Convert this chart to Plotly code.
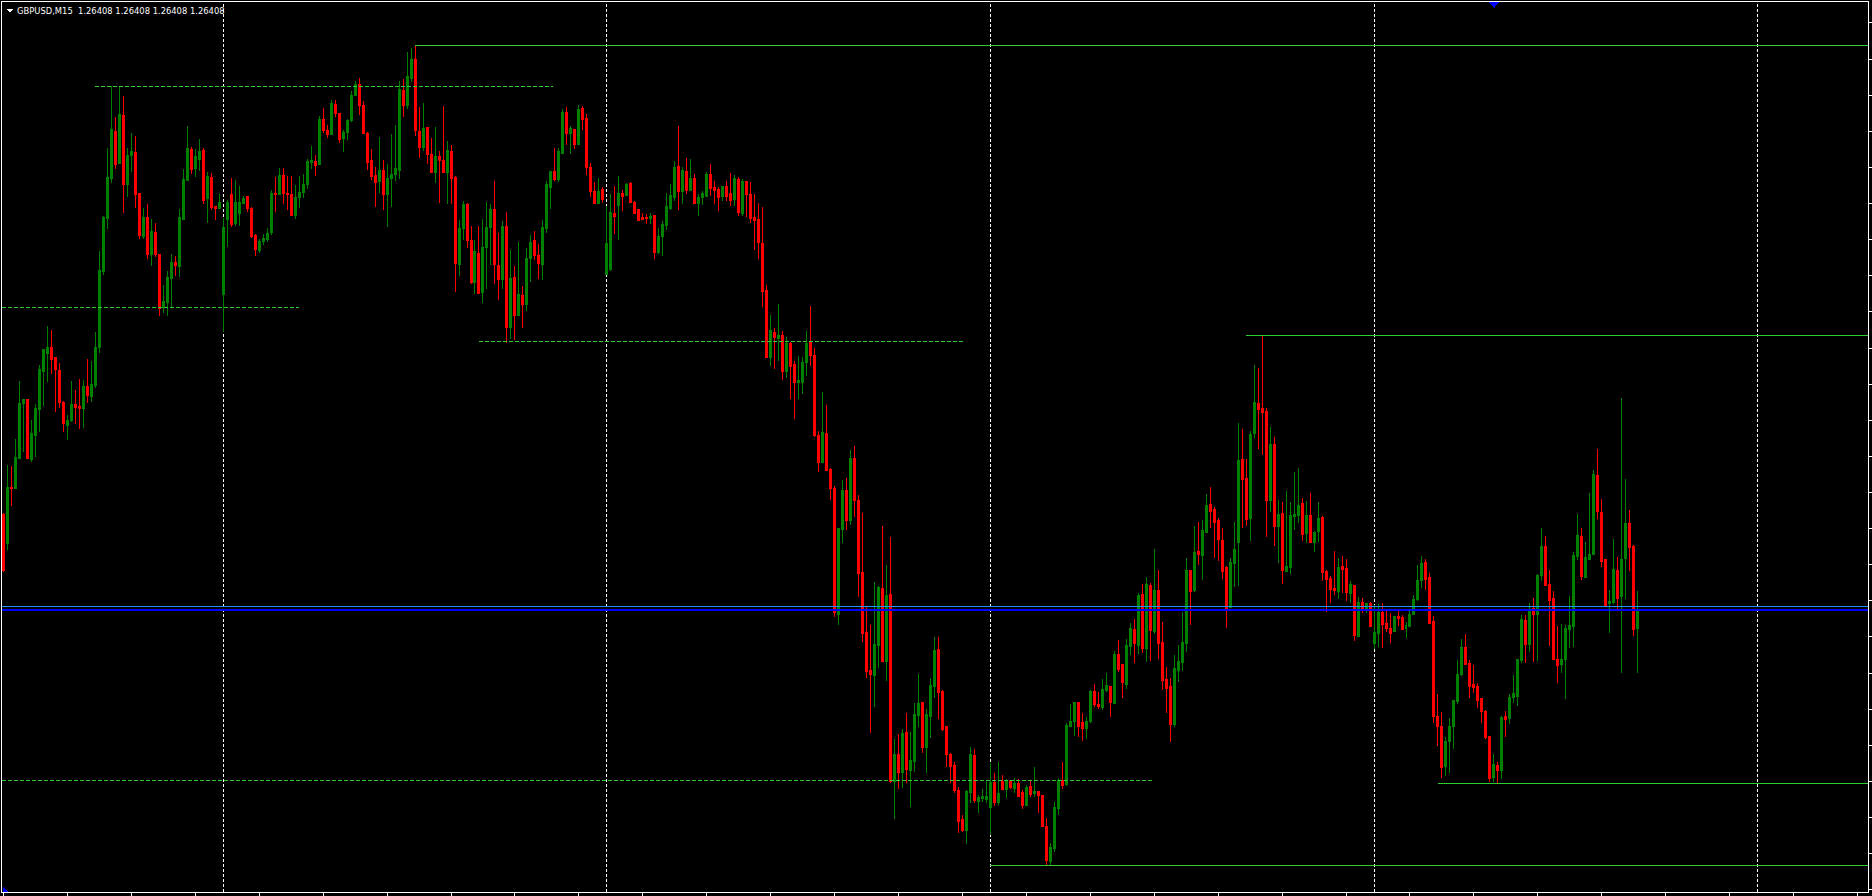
import plotly.graph_objects as go

symbol = "GBPUSD"
timeframe = "M15"

open_ = [
1.26504,1.26475,1.26531,1.26530,1.26560,1.26615,1.26619,1.26559,1.26583,1.26609,
1.26647,1.26665,1.26671,1.26661,1.26648,1.26616,1.26593,1.26598,1.26614,1.26612,
1.26610,1.26632,1.26622,1.26633,1.26671,1.26747,1.26801,1.26841,1.26888,1.26856,
1.26904,1.26835,1.26864,1.26867,1.26826,1.26782,1.26802,1.26764,1.26786,1.26764,
1.26711,1.26716,1.26740,1.26756,1.26752,1.26800,1.26839,1.26870,1.26851,1.26860,
1.26869,1.26821,1.26842,1.26813,1.26811,1.26724,1.26800,1.26825,1.26796,1.26806,
1.26816,1.26823,1.26811,1.26783,1.26768,1.26777,1.26779,1.26786,1.26826,1.26825,
1.26844,1.26826,1.26825,1.26804,1.26822,1.26827,1.26835,1.26857,1.26858,1.26855,
1.26900,1.26889,1.26885,1.26915,1.26906,1.26881,1.26887,1.26899,1.26924,1.26935,
1.26914,1.26886,1.26859,1.26844,1.26838,1.26849,1.26825,1.26841,1.26845,1.26849,
1.26929,1.26914,1.26941,1.26960,1.26888,1.26872,1.26892,1.26865,1.26847,1.26863,
1.26859,1.26847,1.26868,1.26842,1.26754,1.26790,1.26815,1.26778,1.26736,1.26765,
1.26726,1.26771,1.26791,1.26810,1.26753,1.26739,1.26793,1.26691,1.26741,1.26703,
1.26723,1.26714,1.26760,1.26778,1.26763,1.26754,1.26790,1.26832,1.26848,1.26840,
1.26866,1.26907,1.26886,1.26890,1.26875,1.26911,1.26901,1.26852,1.26828,1.26816,
1.26830,1.26744,1.26749,1.26806,1.26814,1.26826,1.26824,1.26836,1.26817,1.26810,
1.26802,1.26802,1.26801,1.26804,1.26766,1.26782,1.26794,1.26811,1.26822,1.26853,
1.26828,1.26848,1.26829,1.26841,1.26816,1.26822,1.26823,1.26845,1.26832,1.26830,
1.26823,1.26833,1.26826,1.26820,1.26840,1.26806,1.26838,1.26825,1.26802,1.26800,
1.26775,1.26728,1.26661,1.26686,1.26680,1.26683,1.26647,1.26675,1.26654,1.26636,
1.26636,1.26656,1.26676,1.26663,1.26583,1.26556,1.26585,1.26549,1.26530,1.26404,
1.26489,1.26528,1.26498,1.26560,1.26518,1.26446,1.26386,1.26348,1.26342,1.26373,
1.26430,1.26357,1.26424,1.26236,1.26263,1.26245,1.26285,1.26247,1.26256,1.26302,
1.26315,1.26270,1.26301,1.26331,1.26369,1.26326,1.26291,1.26263,1.26252,1.26227,
1.26198,1.26187,1.26225,1.26262,1.26216,1.26219,1.26218,1.26210,1.26235,1.26215,
1.26236,1.26228,1.26237,1.26229,1.26234,1.26225,1.26212,1.26231,1.26224,1.26226,
1.26222,1.26191,1.26156,1.26169,1.26209,1.26237,1.26233,1.26291,1.26296,1.26315,
1.26295,1.26289,1.26296,1.26326,1.26313,1.26310,1.26327,1.26331,1.26314,1.26364,
1.26354,1.26333,1.26372,1.26389,1.26373,1.26424,1.26370,1.26433,1.26387,1.26428,
1.26376,1.26338,1.26331,1.26293,1.26348,1.26356,1.26375,1.26448,1.26428,1.26467,
1.26463,1.26486,1.26514,1.26509,1.26498,1.26478,1.26451,1.26411,1.26455,1.26476,
1.26559,1.26540,1.26500,1.26585,1.26615,1.26610,1.26607,1.26518,1.26574,1.26492,
1.26505,1.26447,1.26451,1.26502,1.26503,1.26515,1.26485,1.26503,1.26476,1.26487,
1.26501,1.26447,1.26440,1.26430,1.26427,1.26452,1.26450,1.26425,1.26433,1.26382,
1.26416,1.26408,1.26415,1.26375,1.26385,1.26406,1.26395,1.26390,1.26387,1.26402,
1.26401,1.26390,1.26392,1.26404,1.26419,1.26438,1.26456,1.26441,1.26397,1.26301,
1.26291,1.26251,1.26276,1.26291,1.26316,1.26343,1.26371,1.26355,1.26333,1.26331,
1.26319,1.26306,1.26281,1.26240,1.26252,1.26247,1.26301,1.26299,1.26320,1.26321,
1.26358,1.26398,1.26374,1.26410,1.26404,1.26443,1.26472,1.26434,1.26420,1.26359,
1.26354,1.26359,1.26389,1.26392,1.26462,1.26482,1.26441,1.26459,1.26464,1.26543,
1.26506,1.26459,1.26415,1.26416,1.26448,1.26422,1.26460,1.26495,1.26472,1.26390,
1.26408]

high = [
1.26505,1.26553,1.26552,1.26580,1.26638,1.26620,1.26619,1.26599,1.26615,1.26654,
1.26670,1.26693,1.26689,1.26661,1.26656,1.26618,1.26604,1.26638,1.26629,1.26640,
1.26639,1.26660,1.26658,1.26687,1.26768,1.26803,1.26871,1.26933,1.26902,1.26933,
1.26923,1.26871,1.26886,1.26883,1.26826,1.26811,1.26815,1.26800,1.26796,1.26764,
1.26734,1.26748,1.26765,1.26763,1.26810,1.26850,1.26893,1.26872,1.26870,1.26880,
1.26871,1.26847,1.26846,1.26813,1.26825,1.26801,1.26819,1.26841,1.26839,1.26833,
1.26823,1.26823,1.26812,1.26785,1.26780,1.26785,1.26791,1.26829,1.26842,1.26851,
1.26851,1.26843,1.26843,1.26834,1.26843,1.26845,1.26860,1.26873,1.26864,1.26903,
1.26911,1.26894,1.26919,1.26919,1.26906,1.26889,1.26900,1.26928,1.26938,1.26941,
1.26918,1.26887,1.26870,1.26852,1.26882,1.26859,1.26855,1.26885,1.26894,1.26938,
1.26940,1.26967,1.26971,1.26974,1.26912,1.26916,1.26892,1.26881,1.26892,1.26868,
1.26913,1.26878,1.26874,1.26843,1.26799,1.26818,1.26816,1.26793,1.26779,1.26793,
1.26800,1.26817,1.26815,1.26838,1.26786,1.26798,1.26807,1.26769,1.26753,1.26777,
1.26733,1.26771,1.26784,1.26788,1.26775,1.26799,1.26838,1.26848,1.26871,1.26871,
1.26910,1.26912,1.26893,1.26890,1.26914,1.26913,1.26905,1.26856,1.26837,1.26841,
1.26832,1.26813,1.26825,1.26833,1.26843,1.26829,1.26836,1.26837,1.26818,1.26810,
1.26806,1.26805,1.26806,1.26804,1.26791,1.26798,1.26826,1.26835,1.26858,1.26893,
1.26852,1.26861,1.26860,1.26845,1.26825,1.26828,1.26847,1.26855,1.26838,1.26832,
1.26833,1.26838,1.26846,1.26844,1.26842,1.26840,1.26838,1.26837,1.26825,1.26816,
1.26812,1.26734,1.26704,1.26691,1.26715,1.26688,1.26682,1.26677,1.26658,1.26663,
1.26662,1.26688,1.26713,1.26671,1.26588,1.26627,1.26614,1.26550,1.26532,1.26490,
1.26538,1.26540,1.26568,1.26573,1.26523,1.26505,1.26411,1.26393,1.26436,1.26432,
1.26492,1.26453,1.26481,1.26279,1.26284,1.26289,1.26305,1.26286,1.26315,1.26344,
1.26316,1.26309,1.26340,1.26381,1.26381,1.26328,1.26292,1.26265,1.26256,1.26231,
1.26203,1.26228,1.26271,1.26269,1.26223,1.26229,1.26237,1.26255,1.26245,1.26256,
1.26243,1.26239,1.26238,1.26240,1.26239,1.26228,1.26233,1.26238,1.26251,1.26227,
1.26223,1.26200,1.26175,1.26216,1.26240,1.26256,1.26295,1.26314,1.26316,1.26316,
1.26305,1.26301,1.26328,1.26334,1.26326,1.26339,1.26345,1.26331,1.26367,1.26378,
1.26354,1.26379,1.26395,1.26399,1.26425,1.26434,1.26441,1.26435,1.26469,1.26448,
1.26396,1.26351,1.26340,1.26363,1.26373,1.26406,1.26460,1.26448,1.26492,1.26496,
1.26498,1.26524,1.26531,1.26511,1.26500,1.26490,1.26452,1.26460,1.26496,1.26596,
1.26590,1.26559,1.26588,1.26654,1.26651,1.26683,1.26611,1.26592,1.26582,1.26518,
1.26516,1.26527,1.26516,1.26546,1.26550,1.26520,1.26517,1.26525,1.26487,1.26516,
1.26502,1.26448,1.26442,1.26467,1.26460,1.26462,1.26459,1.26437,1.26433,1.26421,
1.26420,1.26415,1.26416,1.26413,1.26414,1.26415,1.26409,1.26405,1.26402,1.26407,
1.26403,1.26396,1.26408,1.26423,1.26453,1.26462,1.26459,1.26445,1.26402,1.26324,
1.26306,1.26281,1.26300,1.26318,1.26358,1.26379,1.26384,1.26358,1.26353,1.26335,
1.26320,1.26308,1.26281,1.26264,1.26256,1.26302,1.26307,1.26324,1.26343,1.26359,
1.26403,1.26403,1.26415,1.26420,1.26444,1.26490,1.26482,1.26448,1.26427,1.26392,
1.26394,1.26393,1.26422,1.26466,1.26504,1.26490,1.26476,1.26525,1.26548,1.26570,
1.26519,1.26459,1.26428,1.26479,1.26461,1.26621,1.26539,1.26508,1.26473,1.26427,
1.26408]

low = [
1.26446,1.26468,1.26512,1.26529,1.26559,1.26566,1.26560,1.26556,1.26561,1.26587,
1.26613,1.26637,1.26645,1.26607,1.26611,1.26587,1.26579,1.26597,1.26595,1.26590,
1.26591,1.26616,1.26617,1.26631,1.26666,1.26744,1.26790,1.26836,1.26850,1.26856,
1.26806,1.26822,1.26847,1.26811,1.26780,1.26780,1.26760,1.26753,1.26762,1.26703,
1.26706,1.26703,1.26712,1.26743,1.26742,1.26799,1.26839,1.26845,1.26842,1.26848,
1.26815,1.26796,1.26809,1.26799,1.26811,1.26687,1.26772,1.26792,1.26793,1.26793,
1.26815,1.26807,1.26781,1.26763,1.26766,1.26774,1.26777,1.26784,1.26807,1.26824,
1.26815,1.26809,1.26804,1.26800,1.26811,1.26821,1.26830,1.26850,1.26843,1.26854,
1.26886,1.26881,1.26884,1.26902,1.26876,1.26867,1.26879,1.26897,1.26924,1.26904,
1.26885,1.26849,1.26839,1.26812,1.26826,1.26809,1.26792,1.26812,1.26838,1.26840,
1.26902,1.26910,1.26937,1.26883,1.26861,1.26868,1.26855,1.26846,1.26836,1.26816,
1.26846,1.26815,1.26815,1.26727,1.26743,1.26779,1.26771,1.26735,1.26725,1.26725,
1.26716,1.26730,1.26754,1.26735,1.26719,1.26730,1.26676,1.26680,1.26679,1.26703,
1.26691,1.26708,1.26737,1.26759,1.26740,1.26739,1.26786,1.26810,1.26838,1.26837,
1.26865,1.26874,1.26865,1.26870,1.26875,1.26889,1.26844,1.26822,1.26815,1.26816,
1.26816,1.26744,1.26748,1.26785,1.26779,1.26808,1.26824,1.26816,1.26806,1.26799,
1.26799,1.26795,1.26795,1.26760,1.26765,1.26763,1.26789,1.26809,1.26818,1.26809,
1.26815,1.26825,1.26828,1.26815,1.26803,1.26814,1.26823,1.26823,1.26815,1.26808,
1.26818,1.26818,1.26813,1.26813,1.26803,1.26803,1.26802,1.26796,1.26769,1.26760,
1.26712,1.26661,1.26653,1.26650,1.26658,1.26639,1.26641,1.26620,1.26600,1.26620,
1.26625,1.26643,1.26653,1.26582,1.26546,1.26555,1.26547,1.26518,1.26401,1.26393,
1.26475,1.26488,1.26493,1.26501,1.26421,1.26376,1.26340,1.26285,1.26311,1.26350,
1.26356,1.26337,1.26235,1.26199,1.26229,1.26230,1.26235,1.26211,1.26246,1.26291,
1.26265,1.26245,1.26280,1.26320,1.26299,1.26287,1.26251,1.26235,1.26225,1.26185,
1.26186,1.26174,1.26215,1.26215,1.26205,1.26216,1.26215,1.26183,1.26212,1.26213,
1.26228,1.26220,1.26229,1.26225,1.26221,1.26209,1.26212,1.26221,1.26221,1.26205,
1.26191,1.26152,1.26152,1.26166,1.26203,1.26229,1.26232,1.26291,1.26282,1.26281,
1.26277,1.26279,1.26295,1.26311,1.26309,1.26308,1.26326,1.26301,1.26314,1.26346,
1.26320,1.26329,1.26363,1.26355,1.26364,1.26365,1.26356,1.26357,1.26384,1.26359,
1.26328,1.26305,1.26276,1.26291,1.26336,1.26347,1.26366,1.26393,1.26426,1.26453,
1.26438,1.26485,1.26490,1.26460,1.26457,1.26439,1.26390,1.26410,1.26431,1.26432,
1.26490,1.26492,1.26477,1.26581,1.26569,1.26563,1.26481,1.26506,1.26472,1.26455,
1.26434,1.26447,1.26444,1.26488,1.26495,1.26477,1.26475,1.26475,1.26466,1.26476,
1.26437,1.26406,1.26415,1.26423,1.26419,1.26425,1.26417,1.26415,1.26377,1.26382,
1.26405,1.26405,1.26392,1.26369,1.26371,1.26370,1.26386,1.26375,1.26387,1.26392,
1.26389,1.26380,1.26391,1.26403,1.26417,1.26430,1.26428,1.26395,1.26295,1.26272,
1.26240,1.26242,1.26245,1.26269,1.26314,1.26342,1.26353,1.26320,1.26325,1.26310,
1.26295,1.26279,1.26236,1.26236,1.26234,1.26239,1.26281,1.26294,1.26315,1.26312,
1.26355,1.26355,1.26366,1.26356,1.26357,1.26437,1.26432,1.26372,1.26359,1.26335,
1.26345,1.26319,1.26370,1.26371,1.26458,1.26438,1.26440,1.26458,1.26464,1.26499,
1.26451,1.26411,1.26385,1.26414,1.26408,1.26345,1.26419,1.26447,1.26382,1.26345,
1.26408]

close = [
1.26448,1.26531,1.26530,1.26561,1.26615,1.26619,1.26560,1.26585,1.26610,1.26649,
1.26669,1.26671,1.26659,1.26649,1.26616,1.26595,1.26598,1.26614,1.26611,1.26610,
1.26632,1.26623,1.26634,1.26671,1.26748,1.26802,1.26842,1.26890,1.26855,1.26905,
1.26835,1.26864,1.26868,1.26825,1.26783,1.26802,1.26764,1.26787,1.26764,1.26710,
1.26717,1.26741,1.26756,1.26753,1.26802,1.26840,1.26871,1.26850,1.26863,1.26868,
1.26819,1.26843,1.26812,1.26811,1.26817,1.26791,1.26817,1.26795,1.26817,1.26817,
1.26821,1.26811,1.26782,1.26769,1.26777,1.26780,1.26785,1.26826,1.26825,1.26844,
1.26826,1.26825,1.26804,1.26822,1.26827,1.26835,1.26858,1.26859,1.26854,1.26900,
1.26889,1.26885,1.26916,1.26906,1.26880,1.26887,1.26899,1.26924,1.26935,1.26914,
1.26886,1.26857,1.26843,1.26837,1.26849,1.26825,1.26841,1.26845,1.26851,1.26930,
1.26914,1.26943,1.26960,1.26889,1.26872,1.26891,1.26865,1.26847,1.26863,1.26859,
1.26847,1.26869,1.26841,1.26755,1.26790,1.26815,1.26778,1.26736,1.26767,1.26725,
1.26771,1.26791,1.26810,1.26754,1.26739,1.26793,1.26691,1.26740,1.26703,1.26724,
1.26714,1.26760,1.26776,1.26763,1.26755,1.26791,1.26835,1.26848,1.26840,1.26868,
1.26907,1.26886,1.26891,1.26875,1.26910,1.26900,1.26852,1.26828,1.26816,1.26828,
1.26820,1.26775,1.26807,1.26803,1.26826,1.26823,1.26835,1.26817,1.26806,1.26799,
1.26800,1.26801,1.26803,1.26766,1.26782,1.26795,1.26813,1.26824,1.26852,1.26828,
1.26849,1.26829,1.26841,1.26816,1.26822,1.26826,1.26845,1.26831,1.26829,1.26822,
1.26833,1.26823,1.26819,1.26841,1.26807,1.26838,1.26825,1.26801,1.26799,1.26776,
1.26727,1.26661,1.26688,1.26681,1.26683,1.26647,1.26675,1.26652,1.26636,1.26638,
1.26656,1.26675,1.26663,1.26583,1.26556,1.26586,1.26548,1.26530,1.26406,1.26490,
1.26528,1.26498,1.26560,1.26518,1.26445,1.26385,1.26346,1.26343,1.26374,1.26431,
1.26357,1.26423,1.26236,1.26263,1.26245,1.26284,1.26248,1.26257,1.26303,1.26314,
1.26270,1.26303,1.26332,1.26368,1.26325,1.26288,1.26263,1.26251,1.26227,1.26196,
1.26187,1.26226,1.26263,1.26217,1.26220,1.26221,1.26221,1.26235,1.26215,1.26224,
1.26228,1.26236,1.26230,1.26234,1.26221,1.26212,1.26230,1.26223,1.26226,1.26222,
1.26191,1.26157,1.26170,1.26210,1.26237,1.26232,1.26292,1.26296,1.26315,1.26291,
1.26289,1.26296,1.26326,1.26313,1.26311,1.26328,1.26332,1.26315,1.26364,1.26349,
1.26335,1.26373,1.26390,1.26375,1.26423,1.26370,1.26434,1.26388,1.26428,1.26375,
1.26337,1.26329,1.26293,1.26350,1.26357,1.26376,1.26448,1.26427,1.26466,1.26464,
1.26488,1.26513,1.26507,1.26496,1.26479,1.26447,1.26410,1.26456,1.26469,1.26558,
1.26539,1.26499,1.26584,1.26616,1.26609,1.26606,1.26518,1.26574,1.26492,1.26504,
1.26448,1.26452,1.26503,1.26504,1.26513,1.26484,1.26503,1.26476,1.26486,1.26500,
1.26446,1.26439,1.26429,1.26428,1.26451,1.26449,1.26426,1.26434,1.26383,1.26416,
1.26408,1.26415,1.26392,1.26386,1.26406,1.26394,1.26390,1.26385,1.26402,1.26400,
1.26389,1.26393,1.26404,1.26419,1.26438,1.26455,1.26439,1.26395,1.26301,1.26291,
1.26250,1.26276,1.26291,1.26317,1.26343,1.26371,1.26354,1.26331,1.26330,1.26317,
1.26306,1.26280,1.26239,1.26253,1.26247,1.26300,1.26298,1.26320,1.26324,1.26359,
1.26399,1.26374,1.26409,1.26404,1.26443,1.26472,1.26433,1.26418,1.26359,1.26353,
1.26359,1.26390,1.26393,1.26463,1.26483,1.26442,1.26461,1.26464,1.26544,1.26507,
1.26457,1.26413,1.26417,1.26449,1.26420,1.26459,1.26495,1.26471,1.26389,1.26408,
1.26408]

bars = list(range(len(close)))
day_starts = [55, 151, 247, 343, 439]

# drawn objects: (start bar, price) solid lines running to the right edge
solid_levels = [(103, 1.26974), (311, 1.26683), (359, 1.26234), (247, 1.26152)]
# dashed levels: (start bar or None for left edge, end bar, price)
dashed_levels = [(23, 137.6, 1.26933), (None, 74, 1.26711), (119, 240.6, 1.26677), (None, 287.4, 1.26237)]
bid_price = close[-1]
ask_line = 1.26412

W, H = 1872, 896
ML, MR, MT, MB = 1, 3, 1, 3
PW, PH = W - ML - MR, H - MT - MB
bar_px = 4.0
x_range = [-0.375, -0.375 + PW / bar_px]
y_range = [1.261255, 1.270175]

BULL = "#008000"
BEAR = "#FF0000"
LINE_G = "#32CD32"

fig = go.Figure()
fig.add_trace(go.Candlestick(
    x=bars, open=open_, high=high, low=low, close=close,
    increasing=dict(line=dict(color=BULL, width=1), fillcolor=BULL),
    decreasing=dict(line=dict(color=BEAR, width=1), fillcolor=BEAR),
    whiskerwidth=0, hoverinfo="skip", showlegend=False,
))

shapes = []
for d in day_starts:
    shapes.append(dict(type="line", xref="x", yref="paper", x0=d, x1=d, y0=0, y1=1,
                       line=dict(color="white", width=1, dash="3px,2px"), layer="below"))
for s, p in solid_levels:
    shapes.append(dict(type="line", xref="x", yref="y", x0=s, x1=x_range[1], y0=p, y1=p,
                       line=dict(color=LINE_G, width=1)))
for s, e, p in dashed_levels:
    shapes.append(dict(type="line", xref="x", yref="y", x0=(x_range[0] if s is None else s), x1=e,
                       y0=p, y1=p, line=dict(color=LINE_G, width=1, dash="4px,2px")))
shapes.append(dict(type="line", xref="paper", yref="y", x0=0, x1=1, y0=ask_line, y1=ask_line,
                   line=dict(color="#1E90FF", width=1)))
shapes.append(dict(type="line", xref="paper", yref="y", x0=0, x1=1, y0=bid_price, y1=bid_price,
                   line=dict(color="#0000FF", width=2)))

def px(x, y):
    return ((x - ML) / PW, 1 - (y - MT) / PH)

def tri(pts, color):
    d = ""
    for i, (a, b) in enumerate(pts):
        u, v = px(a, b)
        d += ("M" if i == 0 else "L") + f"{u:.6f},{v:.6f} "
    return dict(type="path", xref="paper", yref="paper", path=d + "Z",
                fillcolor=color, line=dict(width=0))

shapes.append(tri([(6, 8), (12, 8), (9, 12)], "white"))
shapes.append(tri([(1490, 1.5), (1499.5, 1.5), (1494.7, 7)], "#0000FF"))
shapes.append(tri([(2, 887), (2, 893), (7, 893)], "#0000FF"))

title = f"{symbol},{timeframe}  {open_[-1]:.5f} {high[-1]:.5f} {low[-1]:.5f} {close[-1]:.5f}"
tx, ty = px(14.5, 10)
fig.add_annotation(text=title, xref="paper", yref="paper", x=tx, y=ty, xanchor="left", yanchor="middle",
                   showarrow=False, font=dict(family="DejaVu Sans", size=8.4, color="white"))

fig.update_layout(
    width=W, height=H, margin=dict(l=ML, r=MR, t=MT, b=MB),
    paper_bgcolor="black", plot_bgcolor="black",
    shapes=shapes, boxgap=0.5, boxgroupgap=0, showlegend=False,
    xaxis=dict(range=x_range, showgrid=False, zeroline=False, showline=True, linecolor="white",
               linewidth=1, mirror=True, ticks="outside", ticklen=3, tickcolor="white", tickwidth=1,
               tick0=0, dtick=16, showticklabels=False, rangeslider=dict(visible=False), fixedrange=True),
    yaxis=dict(range=y_range, side="right", showgrid=False, zeroline=False, showline=True,
               linecolor="white", linewidth=1, mirror=True, ticks="outside", ticklen=3,
               tickcolor="white", tickwidth=1, tick0=1.266345, dtick=0.000362,
               showticklabels=False, fixedrange=True),
)

post = (
    "document.body.style.margin='0px';document.body.style.background='black';"
    "var st=document.createElement('style');"
    "st.textContent='.shapelayer path,.boxlayer path,.trace path{shape-rendering:crispEdges !important;}';"
    "document.head.appendChild(st);"
)
fig.write_html("out.html", config={"displayModeBar": False}, post_script=post)
